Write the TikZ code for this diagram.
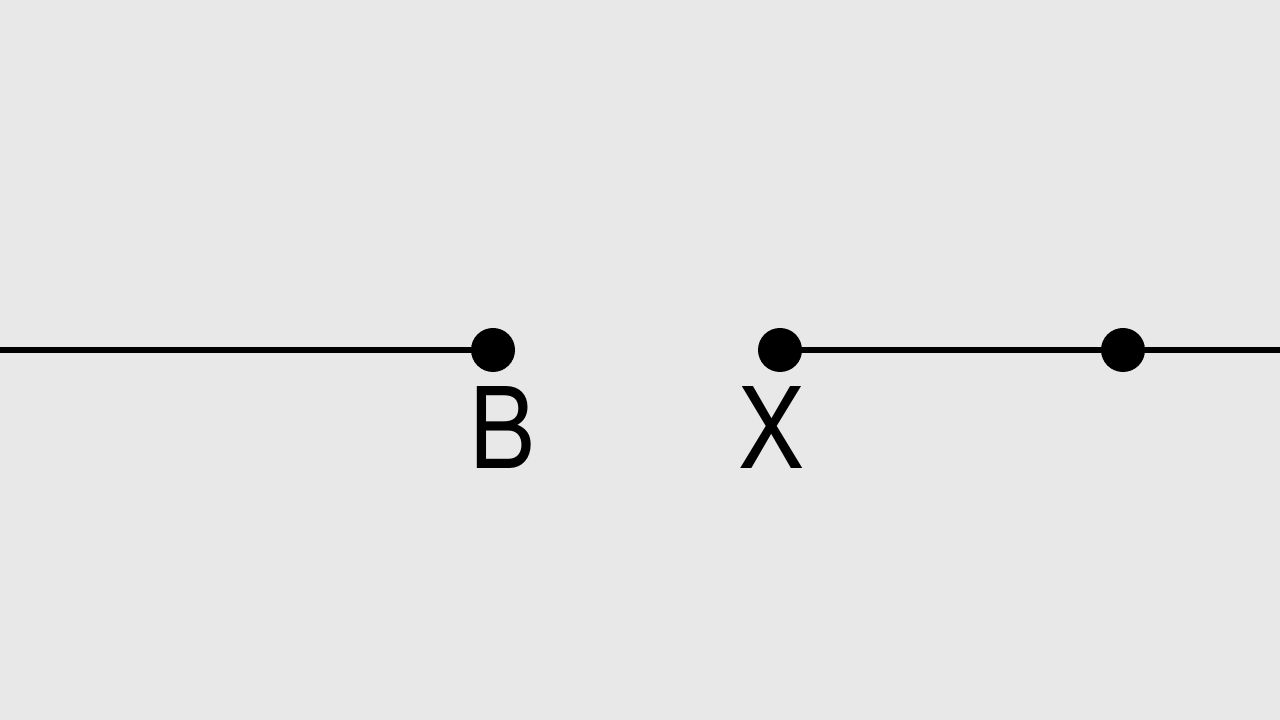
\documentclass[tikz,border=0pt]{standalone}
\usepackage{fontspec}
\setmainfont{TeX Gyre Heros}
\usetikzlibrary{positioning}
\definecolor{paper}{HTML}{E8E8E8}
\tikzset{
  dot/.style={circle,fill=black,inner sep=0pt,minimum size=4.4mm},
  rail/.style={line width=1.45pt},
  letter/.style={font=\fontsize{32}{32}\selectfont,inner sep=0pt,anchor=base,xscale=0.88}
}

\begin{document}
\begin{tikzpicture}
\useasboundingbox[fill=paper] (0,0) rectangle (12.8,7.2);
\def\h{3.7}
% ends of the line
\coordinate (w) at (0,\h);
\coordinate (e) at (12.8,\h);
\node[dot] (b) at (4.93,\h) {};
\node[dot] (x) at (7.80,\h) {};
\node[dot] (c) at (11.23,\h) {};
\draw[rail] (w) -- (b.center);
\draw[rail] (x.center) -- (c.center) -- (e);
% labels under the dots
\node[letter] (lb) at (5.02,2.51) {B};
\node[letter] (lx) at (7.715,2.51) {X};
\end{tikzpicture}
\end{document}
